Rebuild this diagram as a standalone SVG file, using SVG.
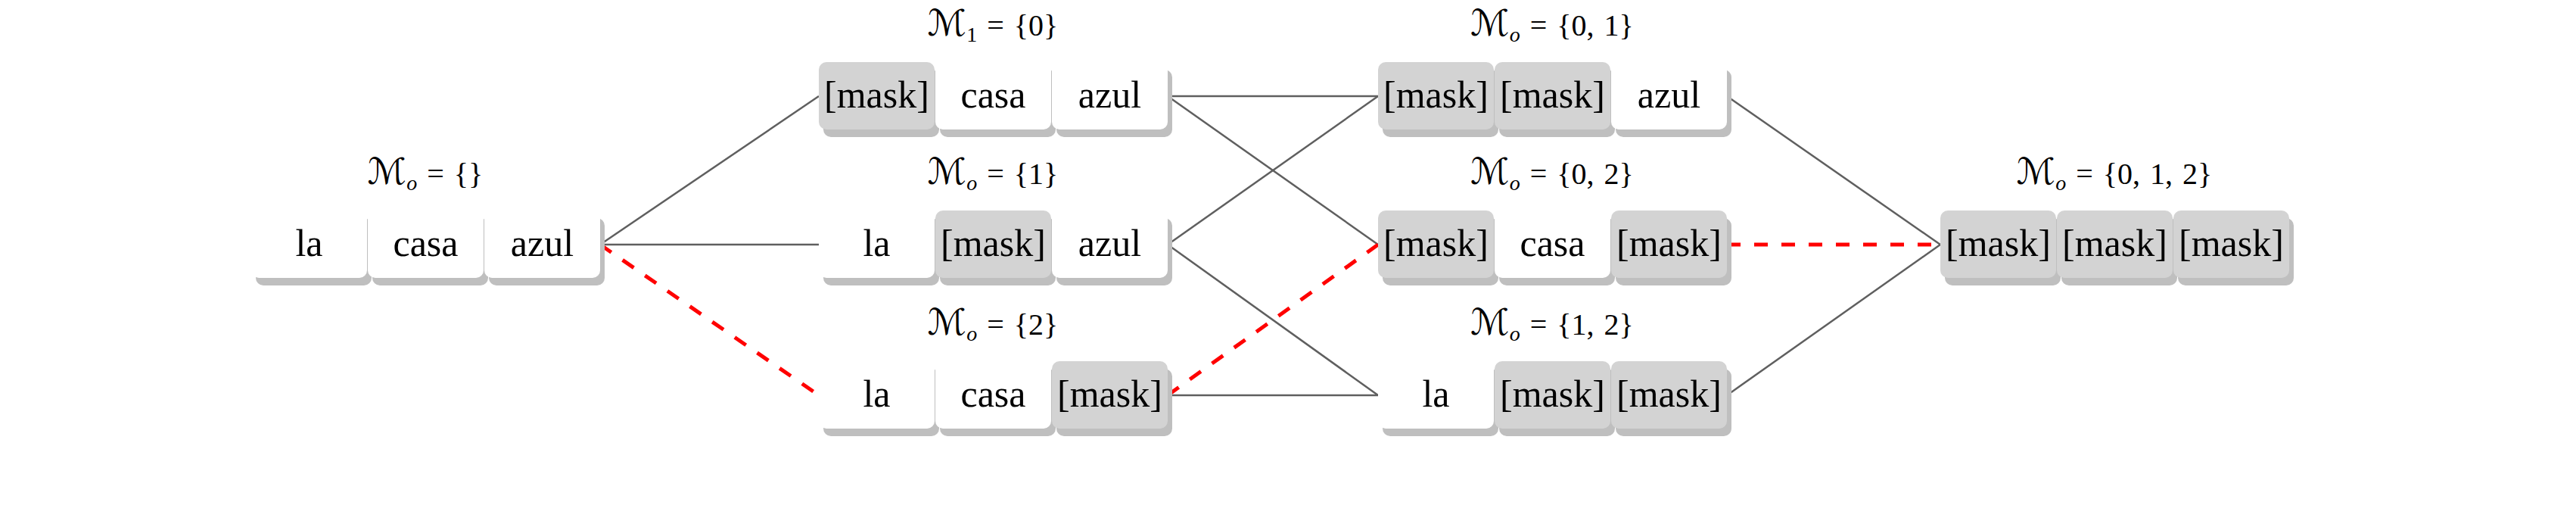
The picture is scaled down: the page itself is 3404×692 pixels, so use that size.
<svg xmlns="http://www.w3.org/2000/svg" width="3404" height="692" viewBox="0 0 3404 692">
<style>
.sh{fill:#bfbfbf}
.w{fill:#ffffff}
.m{fill:#d3d3d3}
.t{font-family:"Liberation Serif","DejaVu Serif",serif;font-size:50px;text-anchor:middle;fill:#000}
.lbl{font-family:"Liberation Serif","DejaVu Serif",serif;font-size:40px;text-anchor:middle;fill:#000;word-spacing:3px}
.cal{font-family:"DejaVu Serif","DejaVu Sans",serif;font-style:italic;font-size:48px}
.sub{font-size:28px;font-style:italic}
.subn{font-size:28px;font-style:normal}
.ln{stroke:#5f5f5f;stroke-width:2.5;fill:none}
.rd{stroke:#ff0000;stroke-width:5;stroke-dasharray:18 18;fill:none}
</style>
<rect width="3404" height="692" fill="#ffffff"/>
<g id="connectors">
<line class="ln" x1="793" y1="323" x2="1082" y2="127"/>
<line class="ln" x1="793" y1="323" x2="1082" y2="323"/>
<line class="rd" x1="793" y1="323" x2="1082" y2="522"/>
<line class="ln" x1="1543" y1="127" x2="1821" y2="127"/>
<line class="ln" x1="1543" y1="127" x2="1821" y2="323"/>
<line class="ln" x1="1543" y1="323" x2="1821" y2="127"/>
<line class="ln" x1="1543" y1="323" x2="1821" y2="522"/>
<line class="ln" x1="1543" y1="522" x2="1821" y2="522"/>
<line class="rd" x1="1543" y1="522" x2="1821" y2="323"/>
<line class="ln" x1="2282" y1="127" x2="2564" y2="323"/>
<line class="rd" x1="2282" y1="323" x2="2564" y2="323"/>
<line class="ln" x1="2282" y1="522" x2="2564" y2="323"/>
</g>
<g id="nodeA">
<text class="lbl" x="562" y="243"><tspan class="cal">ℳ</tspan><tspan class="sub" dy="8">o</tspan><tspan dy="-8"> = {}</tspan></text>
<rect class="sh" x="338" y="288" width="153" height="89" rx="10"/><rect class="w" x="332" y="278" width="153" height="89" rx="10"/><text class="t" x="408.5" y="338">la</text>
<rect class="sh" x="492" y="288" width="153" height="89" rx="10"/><rect class="w" x="486" y="278" width="153" height="89" rx="10"/><text class="t" x="562.5" y="338">casa</text>
<rect class="sh" x="646" y="288" width="153" height="89" rx="10"/><rect class="w" x="640" y="278" width="153" height="89" rx="10"/><text class="t" x="716.5" y="338">azul</text>
</g>
<g id="nodeB1">
<text class="lbl" x="1312" y="47"><tspan class="cal">ℳ</tspan><tspan class="subn" dy="8">1</tspan><tspan dy="-8"> = {0}</tspan></text>
<rect class="sh" x="1088" y="92" width="153" height="89" rx="10"/><rect class="m" x="1082" y="82" width="153" height="89" rx="10"/><text class="t" x="1158.5" y="142">[mask]</text>
<rect class="sh" x="1242" y="92" width="153" height="89" rx="10"/><rect class="w" x="1236" y="82" width="153" height="89" rx="10"/><text class="t" x="1312.5" y="142">casa</text>
<rect class="sh" x="1396" y="92" width="153" height="89" rx="10"/><rect class="w" x="1390" y="82" width="153" height="89" rx="10"/><text class="t" x="1466.5" y="142">azul</text>
</g>
<g id="nodeB2">
<text class="lbl" x="1312" y="243"><tspan class="cal">ℳ</tspan><tspan class="sub" dy="8">o</tspan><tspan dy="-8"> = {1}</tspan></text>
<rect class="sh" x="1088" y="288" width="153" height="89" rx="10"/><rect class="w" x="1082" y="278" width="153" height="89" rx="10"/><text class="t" x="1158.5" y="338">la</text>
<rect class="sh" x="1242" y="288" width="153" height="89" rx="10"/><rect class="m" x="1236" y="278" width="153" height="89" rx="10"/><text class="t" x="1312.5" y="338">[mask]</text>
<rect class="sh" x="1396" y="288" width="153" height="89" rx="10"/><rect class="w" x="1390" y="278" width="153" height="89" rx="10"/><text class="t" x="1466.5" y="338">azul</text>
</g>
<g id="nodeB3">
<text class="lbl" x="1312" y="442"><tspan class="cal">ℳ</tspan><tspan class="sub" dy="8">o</tspan><tspan dy="-8"> = {2}</tspan></text>
<rect class="sh" x="1088" y="487" width="153" height="89" rx="10"/><rect class="w" x="1082" y="477" width="153" height="89" rx="10"/><text class="t" x="1158.5" y="537">la</text>
<rect class="sh" x="1242" y="487" width="153" height="89" rx="10"/><rect class="w" x="1236" y="477" width="153" height="89" rx="10"/><text class="t" x="1312.5" y="537">casa</text>
<rect class="sh" x="1396" y="487" width="153" height="89" rx="10"/><rect class="m" x="1390" y="477" width="153" height="89" rx="10"/><text class="t" x="1466.5" y="537">[mask]</text>
</g>
<g id="nodeC1">
<text class="lbl" x="2051" y="47"><tspan class="cal">ℳ</tspan><tspan class="sub" dy="8">o</tspan><tspan dy="-8"> = {0, 1}</tspan></text>
<rect class="sh" x="1827" y="92" width="153" height="89" rx="10"/><rect class="m" x="1821" y="82" width="153" height="89" rx="10"/><text class="t" x="1897.5" y="142">[mask]</text>
<rect class="sh" x="1981" y="92" width="153" height="89" rx="10"/><rect class="m" x="1975" y="82" width="153" height="89" rx="10"/><text class="t" x="2051.5" y="142">[mask]</text>
<rect class="sh" x="2135" y="92" width="153" height="89" rx="10"/><rect class="w" x="2129" y="82" width="153" height="89" rx="10"/><text class="t" x="2205.5" y="142">azul</text>
</g>
<g id="nodeC2">
<text class="lbl" x="2051" y="243"><tspan class="cal">ℳ</tspan><tspan class="sub" dy="8">o</tspan><tspan dy="-8"> = {0, 2}</tspan></text>
<rect class="sh" x="1827" y="288" width="153" height="89" rx="10"/><rect class="m" x="1821" y="278" width="153" height="89" rx="10"/><text class="t" x="1897.5" y="338">[mask]</text>
<rect class="sh" x="1981" y="288" width="153" height="89" rx="10"/><rect class="w" x="1975" y="278" width="153" height="89" rx="10"/><text class="t" x="2051.5" y="338">casa</text>
<rect class="sh" x="2135" y="288" width="153" height="89" rx="10"/><rect class="m" x="2129" y="278" width="153" height="89" rx="10"/><text class="t" x="2205.5" y="338">[mask]</text>
</g>
<g id="nodeC3">
<text class="lbl" x="2051" y="442"><tspan class="cal">ℳ</tspan><tspan class="sub" dy="8">o</tspan><tspan dy="-8"> = {1, 2}</tspan></text>
<rect class="sh" x="1827" y="487" width="153" height="89" rx="10"/><rect class="w" x="1821" y="477" width="153" height="89" rx="10"/><text class="t" x="1897.5" y="537">la</text>
<rect class="sh" x="1981" y="487" width="153" height="89" rx="10"/><rect class="m" x="1975" y="477" width="153" height="89" rx="10"/><text class="t" x="2051.5" y="537">[mask]</text>
<rect class="sh" x="2135" y="487" width="153" height="89" rx="10"/><rect class="m" x="2129" y="477" width="153" height="89" rx="10"/><text class="t" x="2205.5" y="537">[mask]</text>
</g>
<g id="nodeD">
<text class="lbl" x="2794" y="243"><tspan class="cal">ℳ</tspan><tspan class="sub" dy="8">o</tspan><tspan dy="-8"> = {0, 1, 2}</tspan></text>
<rect class="sh" x="2570" y="288" width="153" height="89" rx="10"/><rect class="m" x="2564" y="278" width="153" height="89" rx="10"/><text class="t" x="2640.5" y="338">[mask]</text>
<rect class="sh" x="2724" y="288" width="153" height="89" rx="10"/><rect class="m" x="2718" y="278" width="153" height="89" rx="10"/><text class="t" x="2794.5" y="338">[mask]</text>
<rect class="sh" x="2878" y="288" width="153" height="89" rx="10"/><rect class="m" x="2872" y="278" width="153" height="89" rx="10"/><text class="t" x="2948.5" y="338">[mask]</text>
</g>
</svg>
